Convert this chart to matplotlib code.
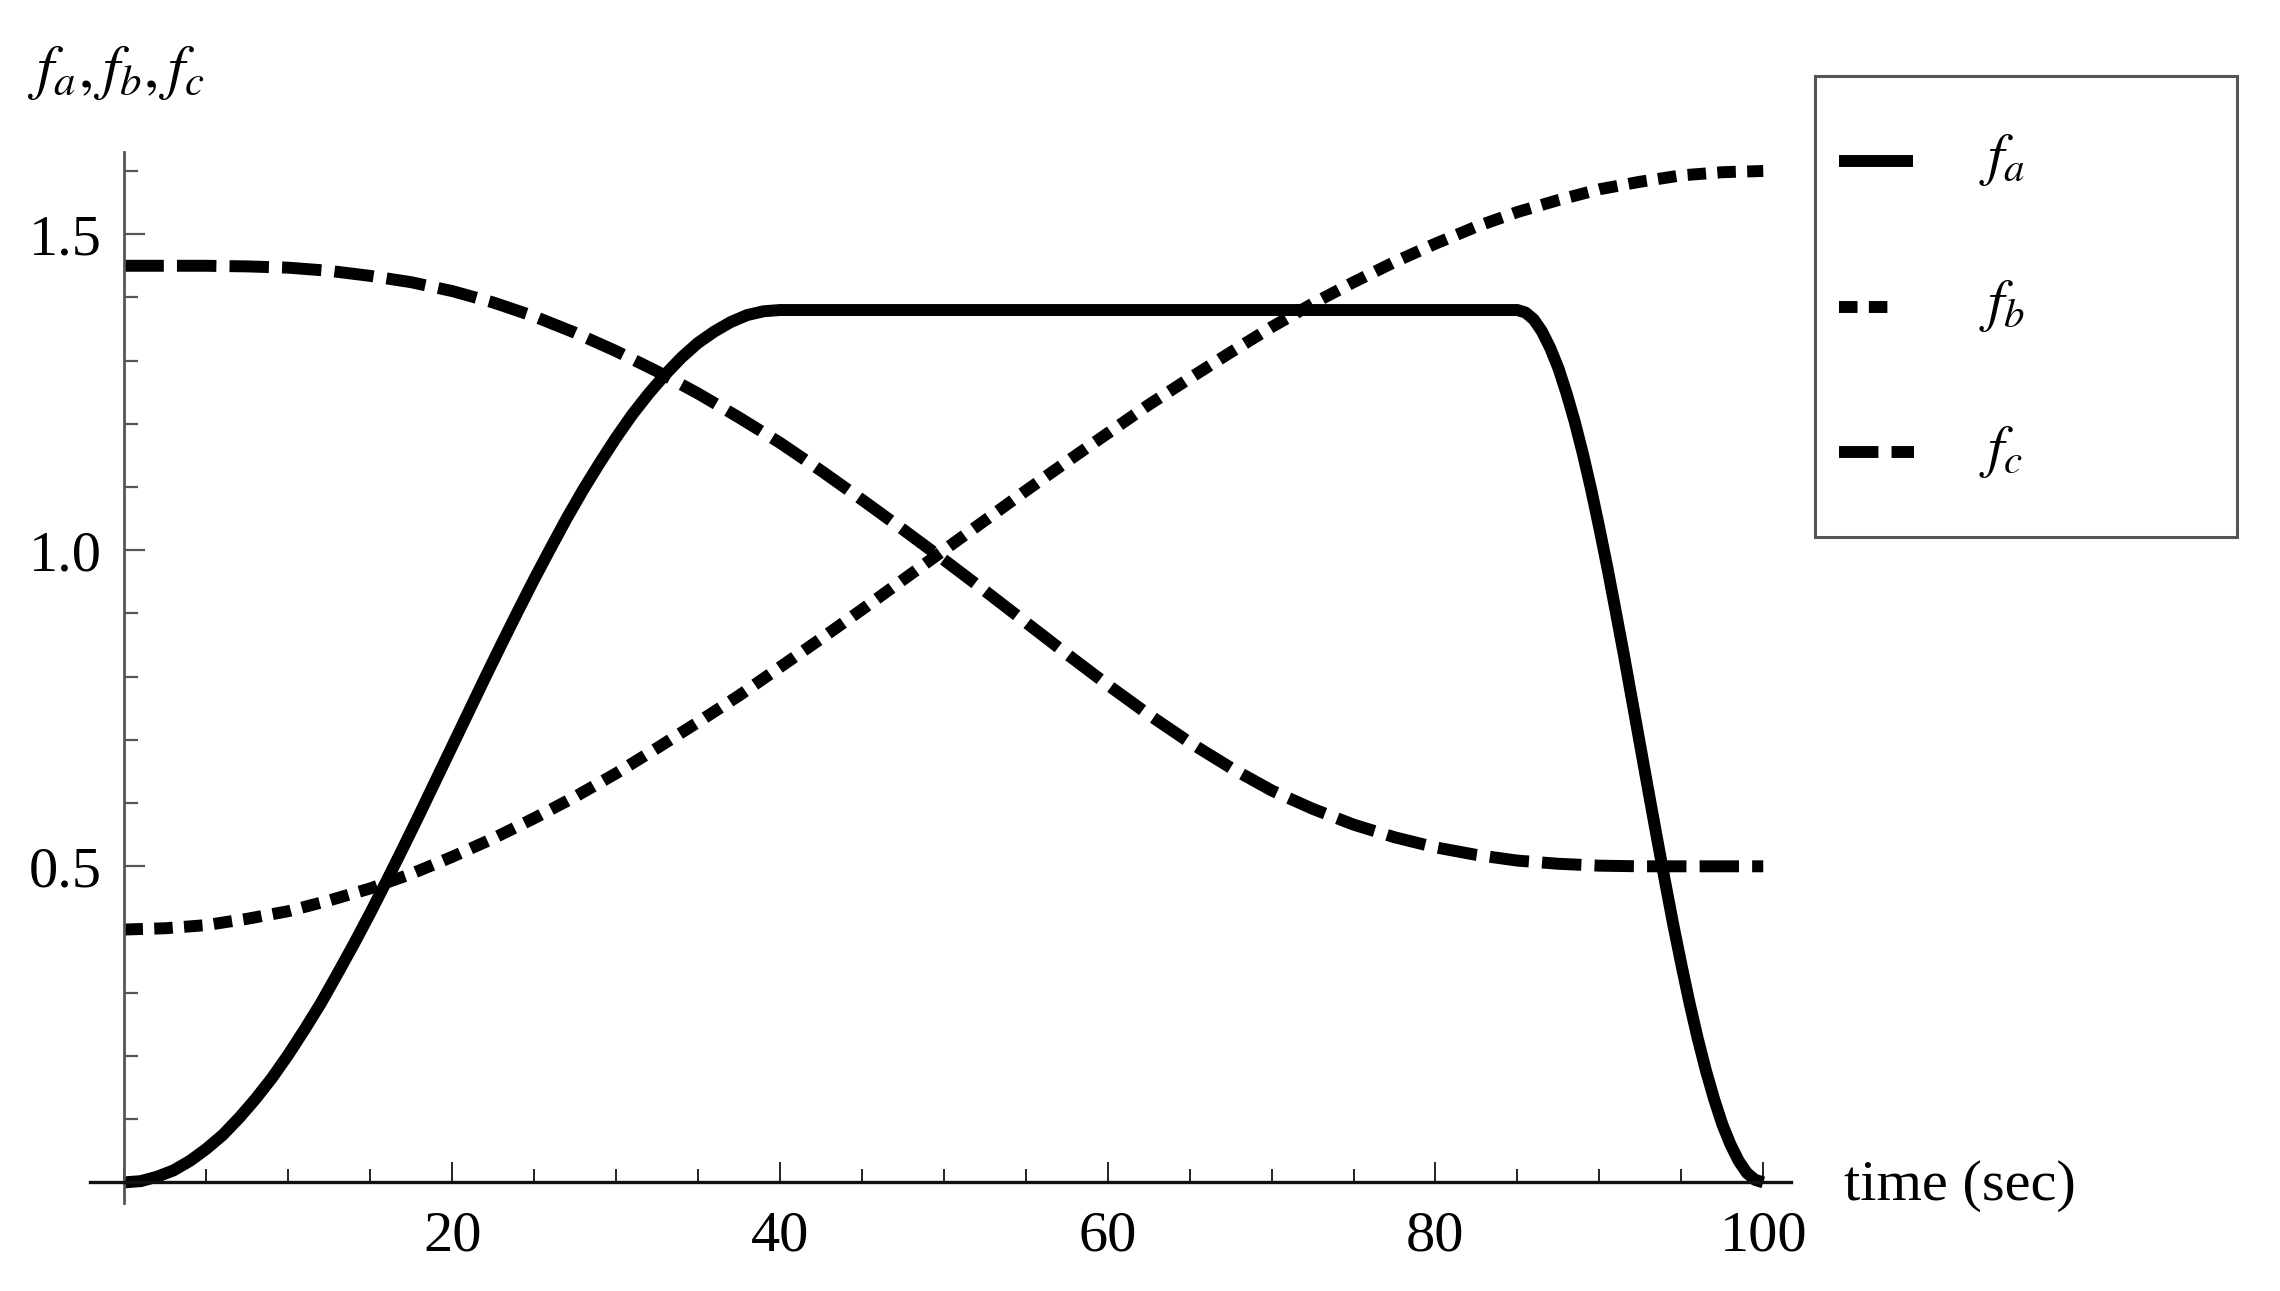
import matplotlib
matplotlib.use("Agg")
import matplotlib.pyplot as plt
from matplotlib.lines import Line2D
from matplotlib.patches import Rectangle
from matplotlib.ticker import FixedLocator, MultipleLocator

# wartości
t_a = [0, 1, 2, 3, 4, 5, 6, 7, 8, 9, 10, 11, 12, 13, 14, 15, 16, 17, 18, 19, 20,
       21, 22, 23, 24, 25, 26, 27, 28, 29, 30, 31, 32, 33, 34, 35, 36, 37, 38, 39, 40,
       85, 85.5, 86, 86.5, 87, 87.5, 88, 88.5, 89, 89.5, 90, 90.5, 91, 91.5, 92, 92.5,
       93, 93.5, 94, 94.5, 95, 95.5, 96, 96.5, 97, 97.5, 98, 98.5, 99, 99.5, 100]
f_a = [0.0, 0.002, 0.009, 0.019, 0.034, 0.053, 0.075, 0.102, 0.132, 0.165, 0.202,
       0.242, 0.284, 0.330, 0.377, 0.426, 0.477, 0.529, 0.582, 0.636, 0.690,
       0.744, 0.798, 0.851, 0.903, 0.954, 1.003, 1.051, 1.096, 1.138, 1.178,
       1.215, 1.248, 1.278, 1.305, 1.328, 1.346, 1.361, 1.372, 1.378, 1.380,
       1.380, 1.376, 1.365, 1.346, 1.320, 1.288, 1.248, 1.203, 1.152, 1.096, 1.035,
       0.971, 0.903, 0.834, 0.762, 0.690, 0.618, 0.547, 0.477, 0.409, 0.345,
       0.284, 0.228, 0.177, 0.132, 0.092, 0.060, 0.034, 0.015, 0.004, 0.0]

t_bc = [0, 2.5, 5, 7.5, 10, 12.5, 15, 17.5, 20, 22.5, 25, 27.5, 30, 32.5, 35, 37.5,
        40, 42.5, 45, 47.5, 50, 52.5, 55, 57.5, 60, 62.5, 65, 67.5, 70, 72.5, 75,
        77.5, 80, 82.5, 85, 87.5, 90, 92.5, 95, 97.5, 100]
f_b = [0.400, 0.402, 0.407, 0.417, 0.429, 0.446, 0.465, 0.488, 0.515, 0.544, 0.576,
       0.610, 0.647, 0.687, 0.728, 0.770, 0.815, 0.860, 0.906, 0.953, 1.000,
       1.047, 1.094, 1.140, 1.185, 1.230, 1.272, 1.313, 1.353, 1.390, 1.424,
       1.456, 1.485, 1.512, 1.535, 1.554, 1.571, 1.583, 1.593, 1.598, 1.600]
f_c = [1.450, 1.450, 1.450, 1.449, 1.447, 1.442, 1.434, 1.424, 1.410, 1.392, 1.370,
       1.344, 1.315, 1.283, 1.248, 1.210, 1.170, 1.126, 1.080, 1.033, 0.985,
       0.936, 0.886, 0.836, 0.787, 0.740, 0.696, 0.656, 0.620, 0.591, 0.566,
       0.546, 0.530, 0.518, 0.509, 0.504, 0.501, 0.500, 0.500, 0.500, 0.500]

x_major = [20, 40, 60, 80, 100]
y_major = [0.5, 1.0, 1.5]
y_labels = ['0.5', '1.0', '1.5']
series_labels = [r'$f_a$', r'$f_b$', r'$f_c$']

plt.rcParams['font.family'] = ['Liberation Serif', 'DejaVu Serif']
plt.rcParams['mathtext.fontset'] = 'stix'

W, H = 2280, 1291
FS = 42
LW = 8.6

def fig_xy(px, py):
    # piksele (od lewego górnego rogu) -> współrzędne figury
    return px / W, 1 - py / H

styles = [
    dict(color='black', lw=LW, solid_capstyle='butt', solid_joinstyle='round'),
    dict(color='black', lw=LW, dashes=(1.55, 0.95)),
    dict(color='black', lw=LW, dashes=(3.3, 1.1)),
]

fig = plt.figure(figsize=(W / 100, H / 100), dpi=100)
ax = fig.add_axes([0.03947, 0.06847, 0.7461, 0.8138])

ax.plot(t_a, f_a, **styles[0])
ax.plot(t_bc, f_b, **styles[1])
ax.plot(t_bc, f_c, **styles[2])

# osie przecinające się w zerze
ax.spines['top'].set_visible(False)
ax.spines['right'].set_visible(False)
ax.spines['left'].set_position(('data', 0))
ax.spines['bottom'].set_position(('data', 0))
ax.spines['left'].set_color('#555555')
ax.spines['left'].set_linewidth(2.0)
ax.spines['bottom'].set_color('#111111')
ax.spines['bottom'].set_linewidth(2.4)

ax.set_xlim(-2.1, 101.7)
ax.set_ylim(-0.032, 1.63)

ax.xaxis.set_major_locator(FixedLocator(x_major))
ax.xaxis.set_minor_locator(MultipleLocator(5))
ax.set_yticks(y_major, y_labels)
ax.yaxis.set_minor_locator(MultipleLocator(0.1))

ax.tick_params(axis='x', which='major', direction='in', length=14.4, width=1.4,
               color='#222222', pad=20, labelsize=FS)
ax.tick_params(axis='x', which='minor', direction='in', length=9.4, width=1.4,
               color='#222222')
ax.tick_params(axis='y', which='major', direction='in', length=15, width=1.6,
               color='#555555', pad=16, labelsize=FS)
ax.tick_params(axis='y', which='minor', direction='in', length=10, width=1.6,
               color='#555555')

fig.text(*fig_xy(28, 72), r'$f_a,f_b,f_c$', fontsize=FS + 2, ha='left', va='center')
fig.text(*fig_xy(1844, 1186), 'time (sec)', fontsize=FS, ha='left', va='center')

# legenda rysowana ręcznie (ramka + próbki linii + opisy)
x0, y0 = fig_xy(1815, 537)
x1, y1 = fig_xy(2237, 76)
fig.add_artist(Rectangle((x0, y0), x1 - x0, y1 - y0, transform=fig.transFigure,
                         facecolor='white', edgecolor='#555555', lw=2.2))
rows_y = [161, 307, 452]
sample_end = [1913, 1890, 1914]
for st, ry, xe, lab in zip(styles, rows_y, sample_end, series_labels):
    xa, ya = fig_xy(1839, ry)
    xb, _ = fig_xy(xe, ry)
    fig.add_artist(Line2D([xa, xb], [ya, ya], transform=fig.transFigure, **st))
    fig.text(*fig_xy(1979, ry - 1), lab, fontsize=FS, ha='left', va='center')

fig.savefig('out.png', dpi=100)
